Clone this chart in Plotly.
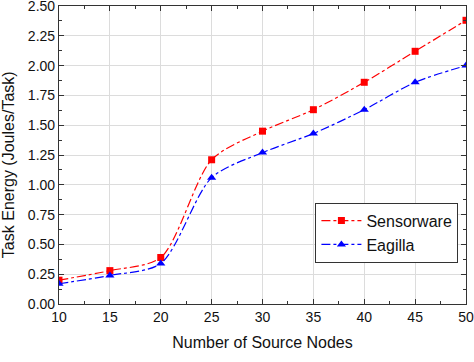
import plotly.graph_objects as go

nodes = [10, 15, 20, 25, 30, 35, 40, 45, 50]
sensorware = [0.20, 0.28, 0.39, 1.21, 1.45, 1.63, 1.86, 2.12, 2.38]
eagilla = [0.17, 0.24, 0.34, 1.06, 1.27, 1.43, 1.63, 1.86, 2.00]
y_ticks = [0.00, 0.25, 0.50, 0.75, 1.00, 1.25, 1.50, 1.75, 2.00, 2.25, 2.50]
x_ticks = [10, 15, 20, 25, 30, 35, 40, 45, 50]

FONT = "Liberation Sans, Arial"

fig = go.Figure()
fig.add_trace(go.Scatter(x=nodes, y=sensorware, name="Sensorware", mode="lines+markers",
                         line=dict(color="#ff0000", dash="dashdot", width=1.2, shape="spline", smoothing=0.8),
                         marker=dict(symbol="square", size=7, color="#ff0000")))
fig.add_trace(go.Scatter(x=nodes, y=eagilla, name="Eagilla", mode="lines+markers",
                         line=dict(color="#0000ff", dash="dashdot", width=1.2, shape="spline", smoothing=0.8),
                         marker=dict(symbol="triangle-up", size=8, color="#0000ff")))

axis_common = dict(showline=True, linecolor="#333", linewidth=1.2, mirror="ticks",
                   ticks="inside", ticklen=5, tickcolor="#333", automargin=False,
                   ticklabeloverflow="allow",
                   showgrid=True, gridcolor="#dcdcdc", gridwidth=1, zeroline=False,
                   tickfont=dict(family=FONT, size=14, color="#111"))
fig.update_xaxes(range=[10, 50], tickvals=x_ticks,
                 minor=dict(ticks="inside", ticklen=3, tickcolor="#333", dtick=2.5, showgrid=False),
                 title=dict(text="Number of Source Nodes", font=dict(family=FONT, size=16, color="#111"), standoff=12),
                 **axis_common)
fig.update_yaxes(range=[0, 2.5], tickvals=y_ticks, ticktext=[f"{v:.2f}" for v in y_ticks],
                 minor=dict(ticks="inside", ticklen=3, tickcolor="#333", dtick=0.125, showgrid=False),
                 **axis_common)
fig.add_annotation(text="Task Energy (Joules/Task)", textangle=-90, xref="paper", yref="paper",
                   x=0, y=0.466, xanchor="center", yanchor="middle", xshift=-51, showarrow=False,
                   font=dict(family=FONT, size=16, color="#111"))
fig.update_layout(width=474, height=362, margin=dict(l=59, r=8, t=6, b=58),
                  plot_bgcolor="white", paper_bgcolor="white",
                  legend=dict(x=0.63, y=0.34, xanchor="left", yanchor="top",
                              bordercolor="#333", borderwidth=1, bgcolor="white",
                              font=dict(family=FONT, size=16, color="#111"),
                              tracegroupgap=0, itemwidth=40))
fig.write_html("out.html", config={"displayModeBar": False},
               post_script="document.body.style.margin='0';document.body.style.overflow='hidden';")
